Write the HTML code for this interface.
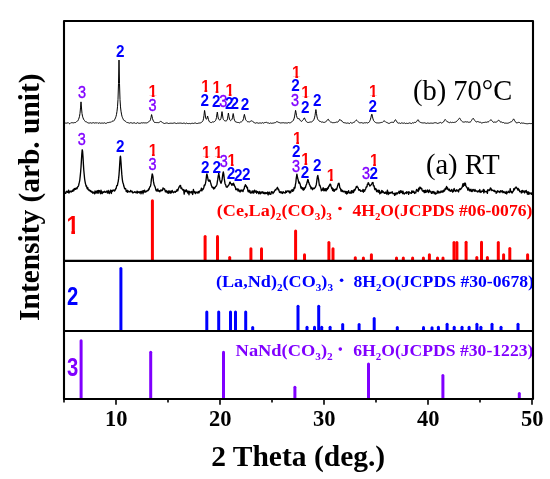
<!DOCTYPE html><html><head><meta charset="utf-8"><style>html,body{margin:0;padding:0;background:#fff;width:550px;height:479px;overflow:hidden}svg{display:block}</style></head><body>
<svg width="550" height="479" viewBox="0 0 550 479">
<rect width="550" height="479" fill="#fff"/>
<defs><clipPath id="c1" clipPathUnits="userSpaceOnUse"><rect x="-5" y="-30" width="30" height="27.95"/><rect x="3.6" y="-2.2" width="3.1" height="8"/></clipPath><clipPath id="c1b" clipPathUnits="userSpaceOnUse"><rect x="-5" y="-40" width="40" height="36.6"/><rect x="5.6" y="-3.6" width="4.2" height="8"/></clipPath></defs>
<polyline fill="none" stroke="#000" stroke-width="1.0" stroke-linejoin="round" points="65.00,123.40 65.50,123.07 66.00,122.98 66.50,123.14 67.00,123.06 67.50,122.89 68.00,122.75 68.50,122.80 69.00,123.36 69.50,123.72 70.00,123.50 70.50,123.00 71.00,122.86 71.50,122.71 72.00,122.62 72.50,122.74 73.00,122.84 73.50,122.85 74.00,122.77 74.50,122.59 75.00,122.53 75.50,122.53 76.00,122.18 76.50,121.63 77.00,121.28 77.50,121.08 78.00,120.49 78.50,119.39 79.00,118.07 79.50,116.29 80.00,113.34 80.50,107.90 81.00,101.87 81.50,108.01 82.00,113.47 82.50,116.13 83.00,117.79 83.50,119.09 84.00,119.94 84.50,120.47 85.00,121.23 85.50,121.75 86.00,121.81 86.50,121.92 87.00,122.21 87.50,122.62 88.00,122.93 88.50,123.00 89.00,123.01 89.50,123.03 90.00,122.86 90.50,122.79 91.00,123.03 91.50,123.15 92.00,122.96 92.50,122.89 93.00,122.72 93.50,122.70 94.00,123.00 94.50,123.09 95.00,122.86 95.50,122.83 96.00,123.04 96.50,122.93 97.00,122.72 97.50,122.80 98.00,123.31 98.50,123.20 99.00,122.79 99.50,122.82 100.00,123.06 100.50,123.22 101.00,123.21 101.50,123.09 102.00,122.89 102.50,123.07 103.00,123.21 103.50,123.16 104.00,122.74 104.50,122.81 105.00,123.18 105.50,123.37 106.00,123.27 106.50,123.21 107.00,122.95 107.50,122.60 108.00,122.40 108.50,122.57 109.00,122.58 109.50,122.31 110.00,122.09 110.50,122.18 111.00,122.20 111.50,121.96 112.00,121.43 112.50,121.10 113.00,121.17 113.50,121.12 114.00,120.62 114.50,119.83 115.00,118.94 115.50,117.86 116.00,116.43 116.50,114.32 117.00,111.29 117.50,106.79 118.00,99.35 118.50,83.35 119.00,60.06 119.50,83.47 120.00,99.57 120.50,106.91 121.00,111.19 121.50,114.10 122.00,116.32 122.50,117.71 123.00,118.77 123.50,119.82 124.00,120.53 124.50,120.65 125.00,120.85 125.50,121.29 126.00,121.76 126.50,122.31 127.00,122.56 127.50,122.55 128.00,122.53 128.50,122.81 129.00,123.02 129.50,123.15 130.00,122.94 130.50,122.71 131.00,122.57 131.50,122.87 132.00,123.18 132.50,123.21 133.00,122.94 133.50,122.93 134.00,122.98 134.50,122.85 135.00,122.85 135.50,123.35 136.00,123.60 136.50,123.28 137.00,122.83 137.50,122.66 138.00,122.79 138.50,123.18 139.00,123.36 139.50,123.27 140.00,123.21 140.50,123.21 141.00,122.98 141.50,122.78 142.00,122.85 142.50,122.96 143.00,122.87 143.50,122.77 144.00,122.77 144.50,122.92 145.00,123.02 145.50,122.89 146.00,122.83 146.50,122.94 147.00,123.02 147.50,122.62 148.00,122.17 148.50,121.89 149.00,121.68 149.50,121.22 150.00,120.68 150.50,119.63 151.00,117.51 151.50,114.73 151.60,114.56 152.00,116.16 152.50,118.66 153.00,120.09 153.50,121.07 154.00,121.85 154.50,122.46 155.00,122.60 155.50,122.49 156.00,122.38 156.50,122.59 157.00,122.66 157.50,122.59 158.00,122.55 158.50,122.67 159.00,122.51 159.50,122.18 160.00,121.72 160.50,121.40 161.00,121.41 161.50,121.75 162.00,122.15 162.50,122.67 163.00,123.05 163.50,123.15 164.00,123.34 164.50,123.50 165.00,123.39 165.50,123.20 166.00,122.97 166.50,122.96 167.00,122.99 167.50,123.08 168.00,123.19 168.50,123.50 169.00,123.51 169.50,123.33 170.00,123.18 170.50,123.23 171.00,123.24 171.50,123.24 172.00,123.31 172.50,123.30 173.00,123.19 173.50,123.14 174.00,122.96 174.50,122.88 175.00,122.92 175.50,123.24 176.00,123.60 176.50,123.52 177.00,123.14 177.50,123.15 178.00,123.23 178.50,123.21 179.00,123.29 179.50,123.13 180.00,122.92 180.50,123.08 181.00,123.32 181.50,123.22 182.00,123.20 182.50,123.43 183.00,123.45 183.50,123.14 184.00,123.08 184.50,123.19 185.00,123.44 185.50,123.66 186.00,123.48 186.50,123.07 187.00,123.05 187.50,123.51 188.00,123.77 188.50,123.59 189.00,123.39 189.50,123.43 190.00,123.64 190.50,123.69 191.00,123.56 191.50,123.39 192.00,123.48 192.50,123.27 193.00,123.31 193.50,123.44 194.00,123.42 194.50,123.10 195.00,122.93 195.50,122.99 196.00,123.30 196.50,123.48 197.00,123.51 197.50,123.47 198.00,123.31 198.50,123.15 199.00,123.14 199.50,123.02 200.00,122.85 200.50,122.86 201.00,122.75 201.50,122.29 202.00,121.82 202.50,121.50 203.00,120.65 203.50,118.78 204.00,115.32 204.50,110.71 204.60,110.40 205.00,113.03 205.50,117.06 206.00,118.88 206.50,119.21 207.00,118.33 207.50,116.21 207.60,115.99 208.00,117.63 208.50,119.76 209.00,121.06 209.50,121.85 210.00,122.24 210.50,122.43 211.00,122.61 211.50,122.55 212.00,122.25 212.50,121.88 213.00,121.97 213.50,122.04 214.00,121.70 214.50,121.47 215.00,121.26 215.50,120.54 216.00,119.32 216.50,117.43 217.00,113.61 217.30,112.06 217.50,112.88 218.00,116.96 218.50,118.97 219.00,119.61 219.50,119.92 220.00,120.08 220.50,119.67 221.00,118.24 221.50,114.98 222.00,111.61 222.50,115.00 223.00,118.22 223.50,119.65 224.00,120.27 224.50,120.64 225.00,120.92 225.50,120.95 226.00,120.92 226.50,120.74 227.00,120.27 227.50,118.86 228.00,115.45 228.40,113.04 229.00,116.72 229.50,119.10 230.00,120.15 230.50,120.62 231.00,120.33 231.50,119.87 232.00,119.31 232.50,117.71 233.00,114.30 233.20,113.55 233.50,114.89 234.00,118.38 234.50,120.15 235.00,121.15 235.50,121.89 236.00,122.10 236.50,122.15 237.00,122.38 237.50,122.44 238.00,122.42 238.50,122.51 239.00,122.85 239.50,122.84 240.00,122.40 240.50,122.06 241.00,122.00 241.50,121.80 242.00,121.42 242.50,121.01 243.00,120.12 243.50,118.56 244.00,115.91 244.40,114.36 245.00,117.02 245.50,119.27 246.00,120.28 246.50,120.69 247.00,121.20 247.50,121.68 248.00,121.80 248.50,121.77 249.00,121.88 249.50,121.93 250.00,121.59 250.50,121.29 251.00,121.02 251.50,120.82 252.00,120.81 252.50,121.18 253.00,121.74 253.50,122.18 254.00,122.49 254.50,122.74 255.00,123.03 255.50,123.16 256.00,123.13 256.50,122.75 257.00,122.59 257.50,122.90 258.00,123.21 258.50,123.22 259.00,123.12 259.50,122.99 260.00,122.82 260.50,122.99 261.00,123.23 261.50,123.18 262.00,122.78 262.50,122.65 263.00,122.91 263.50,123.16 264.00,122.90 264.50,122.63 265.00,122.63 265.50,122.48 266.00,122.20 266.50,122.34 267.00,122.65 267.50,122.87 268.00,122.86 268.50,122.97 269.00,123.16 269.50,123.44 270.00,123.21 270.50,122.96 271.00,123.07 271.50,123.29 272.00,123.14 272.50,123.16 273.00,123.25 273.50,123.06 274.00,122.80 274.50,122.76 275.00,122.88 275.50,122.65 276.00,122.10 276.50,121.68 276.70,121.75 277.00,121.77 277.50,121.80 278.00,122.01 278.50,122.34 279.00,122.49 279.50,122.63 280.00,122.94 280.50,122.97 281.00,122.97 281.50,122.87 282.00,122.88 282.50,122.79 283.00,122.68 283.50,122.72 284.00,123.00 284.50,122.96 285.00,122.79 285.50,122.90 286.00,123.03 286.50,123.01 287.00,123.05 287.50,123.01 288.00,122.77 288.50,122.54 289.00,122.68 289.50,122.88 290.00,122.95 290.50,122.69 291.00,122.28 291.50,121.99 292.00,121.71 292.50,121.31 293.00,120.81 293.50,119.99 294.00,118.70 294.50,116.91 295.00,114.03 295.50,110.48 295.60,110.31 296.00,112.27 296.50,115.50 297.00,117.32 297.50,118.45 298.00,118.92 298.50,118.68 299.00,118.39 299.50,119.22 300.00,120.18 300.50,120.75 301.00,121.01 301.50,121.30 302.00,121.19 302.50,120.52 303.00,119.93 303.50,119.27 304.00,118.20 304.30,117.81 304.50,117.99 305.00,119.12 305.50,120.28 306.00,121.11 306.50,121.73 307.00,122.18 307.50,122.37 308.00,122.37 308.50,122.46 309.00,122.51 309.50,122.20 310.00,121.97 310.50,121.97 311.00,122.10 311.50,121.96 312.00,121.66 312.50,121.24 313.00,120.93 313.50,120.35 314.00,119.30 314.50,117.83 315.00,115.62 315.50,111.86 315.90,109.59 316.50,113.61 317.00,116.84 317.50,118.69 318.00,119.68 318.50,120.28 319.00,120.91 319.50,121.24 320.00,121.35 320.50,121.52 321.00,121.90 321.50,122.13 322.00,122.12 322.50,121.98 323.00,122.04 323.50,122.36 324.00,122.54 324.50,122.36 325.00,122.14 325.50,121.86 326.00,121.47 326.50,121.08 327.00,120.65 327.50,119.95 328.00,119.19 328.20,119.12 328.50,119.59 329.00,120.48 329.50,121.06 330.00,121.51 330.50,121.98 331.00,122.07 331.50,122.23 332.00,122.45 332.50,122.69 333.00,122.71 333.50,122.67 334.00,122.50 334.50,122.61 335.00,122.62 335.50,122.43 336.00,122.25 336.50,122.05 337.00,122.01 337.50,122.14 338.00,121.96 338.50,121.43 339.00,120.67 339.50,119.70 340.00,119.36 340.50,120.11 341.00,120.73 341.50,120.71 342.00,120.88 342.50,121.71 343.00,122.41 343.50,122.55 344.00,122.64 344.50,122.75 345.00,122.76 345.50,122.92 346.00,123.17 346.50,123.20 347.00,123.06 347.50,123.00 348.00,123.00 348.50,123.16 349.00,123.53 349.50,123.59 350.00,122.91 350.50,122.42 351.00,122.66 351.50,123.05 352.00,123.22 352.50,123.00 353.00,122.54 353.50,122.41 354.00,122.31 354.50,122.03 355.00,121.55 355.50,120.97 356.00,120.24 356.40,120.04 357.00,120.62 357.50,121.23 358.00,121.65 358.50,122.05 359.00,122.44 359.50,122.76 360.00,122.93 360.50,122.79 361.00,122.60 361.50,122.64 362.00,122.88 362.50,122.97 363.00,123.04 363.50,123.14 364.00,123.13 364.50,122.78 365.00,122.66 365.50,122.85 366.00,122.78 366.50,122.63 367.00,122.87 367.50,123.01 368.00,122.65 368.50,122.50 369.00,122.37 369.50,121.64 370.00,120.49 370.50,119.21 371.00,117.31 371.50,114.75 371.80,114.09 372.00,114.48 372.50,116.84 373.00,118.93 373.50,120.39 374.00,121.24 374.50,121.63 375.00,121.92 375.50,122.46 376.00,122.76 376.50,122.86 377.00,122.96 377.50,122.92 378.00,122.92 378.50,122.98 379.00,122.99 379.50,122.89 380.00,122.90 380.50,122.67 381.00,122.43 381.50,122.41 382.00,122.54 382.50,122.30 383.00,121.73 383.50,121.24 384.00,120.89 384.50,120.97 385.00,121.40 385.50,121.92 386.00,122.19 386.50,122.39 387.00,122.64 387.50,122.77 388.00,123.02 388.50,123.34 389.00,123.47 389.50,123.29 390.00,123.01 390.50,122.63 391.00,122.48 391.50,122.31 392.00,122.19 392.50,122.29 393.00,122.61 393.50,122.54 394.00,121.87 394.50,120.99 395.00,120.14 395.50,119.80 396.00,120.27 396.50,121.15 397.00,122.06 397.50,122.75 398.00,123.11 398.50,123.17 399.00,123.03 399.50,122.99 400.00,123.38 400.50,123.46 401.00,123.18 401.50,122.90 402.00,122.86 402.50,123.08 403.00,123.35 403.50,123.24 404.00,122.94 404.50,122.94 405.00,123.25 405.50,123.54 406.00,123.51 406.50,123.24 407.00,123.26 407.50,123.46 408.00,123.45 408.50,123.31 409.00,123.12 409.50,122.89 410.00,122.94 410.50,123.22 411.00,123.41 411.50,123.54 412.00,123.18 412.50,122.76 413.00,122.79 413.50,123.01 414.00,122.81 414.50,122.38 415.00,122.26 415.50,122.42 416.00,122.30 416.50,121.61 417.00,121.03 417.50,120.24 418.00,119.69 418.50,120.26 419.00,121.43 419.50,121.96 420.00,122.06 420.50,122.41 421.00,122.62 421.50,122.72 422.00,122.80 422.50,122.90 423.00,122.94 423.50,122.95 424.00,122.85 424.50,122.82 425.00,123.02 425.50,123.14 426.00,123.34 426.50,123.40 427.00,123.19 427.50,123.00 428.00,123.00 428.50,123.17 429.00,123.30 429.50,123.31 430.00,123.25 430.50,123.13 431.00,123.12 431.50,123.14 432.00,123.09 432.50,123.24 433.00,123.34 433.50,123.12 434.00,122.82 434.50,122.76 435.00,122.66 435.50,122.71 436.00,122.79 436.50,122.95 437.00,123.22 437.50,123.42 438.00,123.35 438.50,123.16 439.00,123.01 439.50,122.78 440.00,122.49 440.50,122.40 441.00,122.77 441.50,123.08 442.00,122.81 442.50,122.59 443.00,122.44 443.50,121.97 444.00,121.18 444.50,120.34 445.00,119.47 445.30,119.56 445.50,119.87 446.00,120.52 446.50,120.99 447.00,121.51 447.50,121.75 448.00,121.90 448.50,122.27 449.00,122.63 449.50,122.70 450.00,122.52 450.50,122.15 451.00,122.20 451.50,122.71 452.00,122.70 452.50,122.34 453.00,122.32 453.50,122.51 454.00,122.49 454.50,122.34 455.00,122.15 455.50,122.09 456.00,121.99 456.50,121.56 457.00,120.83 457.50,120.32 458.00,119.98 458.50,119.47 459.00,118.71 459.50,118.17 459.60,118.07 460.00,118.33 460.50,119.43 461.00,120.35 461.50,120.93 462.00,121.41 462.50,121.78 463.00,122.01 463.50,122.08 464.00,122.09 464.50,122.02 465.00,121.91 465.50,121.72 466.00,121.87 466.50,121.97 467.00,121.98 467.50,121.85 468.00,121.95 468.50,122.26 469.00,122.38 469.50,122.20 470.00,121.99 470.50,121.87 471.00,121.45 471.50,120.56 472.00,119.62 472.50,118.86 473.00,118.32 473.50,118.59 474.00,119.39 474.50,120.17 475.00,120.74 475.50,121.37 476.00,121.91 476.50,121.97 477.00,121.59 477.50,121.56 478.00,121.68 478.50,121.80 479.00,122.06 479.50,122.24 480.00,122.17 480.50,122.28 481.00,122.64 481.50,122.97 482.00,122.94 482.50,122.77 483.00,122.57 483.50,122.49 484.00,122.36 484.50,122.42 485.00,122.34 485.50,122.16 486.00,122.06 486.50,122.29 487.00,122.21 487.50,121.90 488.00,121.78 488.50,121.81 489.00,121.47 489.50,120.93 490.00,120.32 490.50,119.96 490.70,120.04 491.00,120.03 491.50,120.16 492.00,120.64 492.50,121.48 493.00,122.09 493.50,122.29 494.00,122.27 494.50,122.05 495.00,121.99 495.50,122.18 496.00,122.29 496.50,121.95 497.00,121.57 497.50,121.16 498.00,120.80 498.50,120.36 498.70,120.23 499.00,120.23 499.50,120.96 500.00,121.71 500.50,122.01 501.00,121.97 501.50,122.01 502.00,122.40 502.50,122.60 503.00,122.44 503.50,122.48 504.00,122.99 504.50,123.15 505.00,123.08 505.50,123.12 506.00,123.26 506.50,123.19 507.00,123.21 507.50,123.23 508.00,123.26 508.50,123.00 509.00,122.82 509.50,122.57 510.00,122.25 510.50,122.02 511.00,122.00 511.50,121.79 512.00,121.23 512.50,120.65 513.00,119.84 513.50,119.07 513.60,118.87 514.00,119.37 514.50,120.38 515.00,121.15 515.50,121.96 516.00,122.65 516.50,122.80 517.00,122.65 517.50,122.72 518.00,122.75 518.50,122.39 519.00,122.19 519.50,122.48 520.00,123.06 520.50,123.42 521.00,123.34 521.50,122.93 522.00,122.98 522.50,123.15 523.00,123.14 523.50,123.10 524.00,123.27 524.50,123.38 525.00,123.41 525.50,123.57 526.00,123.87 526.50,123.70 527.00,123.59 527.50,123.75 528.00,123.91 528.50,123.60 529.00,123.47 529.50,123.44 530.00,123.54 530.50,123.60 531.00,123.71 531.50,123.56 532.00,123.32"/>
<polyline fill="none" stroke="#000" stroke-width="1.35" stroke-linejoin="round" points="65.00,192.15 65.40,193.36 65.80,193.24 66.20,191.42 66.60,191.66 67.00,191.29 67.40,192.27 67.80,191.60 68.20,192.38 68.60,190.08 69.00,193.12 69.40,191.46 69.80,192.00 70.20,191.39 70.60,191.11 71.00,191.79 71.40,192.02 71.80,190.90 72.20,190.80 72.60,191.35 73.00,190.03 73.40,189.26 73.80,190.78 74.20,189.67 74.60,188.55 75.00,189.35 75.40,189.42 75.80,188.69 76.20,187.92 76.60,188.73 77.00,188.84 77.40,187.52 77.80,186.58 78.20,186.50 78.60,185.50 79.00,183.55 79.40,182.18 79.80,180.00 80.20,176.43 80.60,172.23 81.00,167.30 81.40,160.71 81.80,154.26 82.20,149.92 82.30,149.87 82.60,151.41 83.00,156.90 83.40,164.11 83.80,170.21 84.20,174.47 84.60,178.74 85.00,181.30 85.40,183.36 85.80,184.86 86.20,186.40 86.60,186.06 87.00,188.23 87.40,188.91 87.80,187.73 88.20,189.61 88.60,189.60 89.00,190.62 89.40,189.96 89.80,190.57 90.20,191.22 90.60,190.48 91.00,191.81 91.40,191.42 91.80,192.27 92.20,191.57 92.60,193.10 93.00,192.72 93.40,192.12 93.80,192.78 94.20,193.35 94.60,193.89 95.00,190.98 95.40,193.03 95.80,192.51 96.20,191.90 96.60,191.09 97.00,193.17 97.40,190.79 97.80,192.44 98.20,193.18 98.60,190.39 99.00,191.67 99.40,190.67 99.80,192.12 100.20,193.19 100.60,193.68 101.00,190.11 101.40,191.60 101.80,192.85 102.20,193.62 102.60,192.51 103.00,191.61 103.40,192.46 103.80,192.09 104.20,191.77 104.60,191.33 105.00,192.35 105.40,192.38 105.80,191.95 106.20,191.94 106.60,191.08 107.00,191.82 107.40,193.15 107.80,191.77 108.20,190.40 108.60,192.91 109.00,192.08 109.40,193.48 109.80,191.45 110.20,191.01 110.60,190.08 111.00,192.53 111.40,193.50 111.80,190.54 112.20,190.61 112.60,191.27 113.00,190.04 113.40,190.35 113.80,190.23 114.20,190.67 114.60,191.05 115.00,189.78 115.40,189.98 115.80,188.48 116.20,188.35 116.60,185.99 117.00,185.39 117.40,185.47 117.80,183.13 118.20,181.57 118.60,178.67 119.00,174.83 119.40,169.22 119.80,162.67 120.20,157.10 120.40,156.16 120.60,156.96 121.00,162.29 121.40,168.66 121.80,174.15 122.20,178.30 122.60,181.32 123.00,183.10 123.40,183.77 123.80,186.01 124.20,187.10 124.60,188.63 125.00,188.91 125.40,188.55 125.80,188.99 126.20,191.41 126.60,190.54 127.00,191.70 127.40,192.31 127.80,190.30 128.20,191.37 128.60,191.68 129.00,191.94 129.40,191.92 129.80,191.65 130.20,191.78 130.60,190.39 131.00,191.54 131.40,191.14 131.80,191.88 132.20,191.31 132.60,192.78 133.00,192.90 133.40,192.40 133.80,192.49 134.20,192.31 134.60,191.74 135.00,192.08 135.40,191.95 135.80,192.73 136.20,192.36 136.60,192.73 137.00,191.10 137.40,193.01 137.80,191.53 138.20,191.84 138.60,192.25 139.00,192.11 139.40,192.95 139.80,191.86 140.20,191.53 140.60,191.86 141.00,193.74 141.40,192.45 141.80,191.27 142.20,192.32 142.60,190.89 143.00,193.72 143.40,190.62 143.80,192.28 144.20,192.19 144.60,190.21 145.00,191.57 145.40,192.09 145.80,191.61 146.20,191.25 146.60,191.57 147.00,190.75 147.40,190.76 147.80,190.24 148.20,190.55 148.60,188.86 149.00,189.67 149.40,188.10 149.80,186.95 150.20,186.71 150.60,185.77 151.00,183.13 151.40,179.40 151.80,176.55 152.20,173.89 152.30,173.89 152.60,174.89 153.00,176.98 153.40,181.18 153.80,183.04 154.20,185.05 154.60,185.81 155.00,186.71 155.40,187.77 155.80,189.62 156.20,190.77 156.60,189.88 157.00,191.14 157.40,190.20 157.80,188.92 158.20,190.87 158.60,191.16 159.00,190.61 159.40,191.41 159.80,191.78 160.20,190.67 160.60,190.05 161.00,190.89 161.40,190.53 161.80,190.02 162.20,190.50 162.60,190.02 163.00,187.91 163.40,188.24 163.50,188.52 163.80,188.48 164.20,189.30 164.60,188.94 165.00,190.35 165.40,191.78 165.80,191.23 166.20,190.48 166.60,191.73 167.00,192.56 167.40,191.77 167.80,191.18 168.20,193.39 168.60,190.92 169.00,192.64 169.40,192.09 169.80,191.00 170.20,193.20 170.60,192.40 171.00,191.13 171.40,192.84 171.80,191.69 172.20,190.36 172.60,191.49 173.00,192.33 173.40,192.67 173.80,191.94 174.20,191.83 174.60,192.02 175.00,191.33 175.40,192.33 175.80,191.43 176.20,191.26 176.60,191.26 177.00,189.70 177.40,189.65 177.80,190.82 178.20,189.21 178.60,187.93 179.00,187.47 179.40,186.14 179.80,186.14 180.00,185.47 180.20,186.16 180.60,185.57 181.00,188.38 181.40,188.00 181.80,188.04 182.20,189.42 182.60,189.58 183.00,190.24 183.40,189.48 183.80,191.08 184.20,194.16 184.60,190.07 185.00,191.54 185.40,191.03 185.80,191.55 186.20,189.75 186.60,190.38 187.00,191.76 187.40,191.39 187.80,193.00 188.20,191.05 188.60,192.00 189.00,194.74 189.40,191.46 189.80,191.39 190.20,192.12 190.60,192.11 191.00,192.93 191.40,192.24 191.80,191.41 192.20,192.29 192.60,194.45 193.00,193.25 193.40,189.44 193.80,191.89 194.20,191.21 194.60,192.62 195.00,191.66 195.40,193.58 195.80,192.77 196.20,192.75 196.60,192.18 197.00,191.98 197.40,192.41 197.80,193.10 198.20,192.32 198.60,191.52 199.00,192.84 199.40,191.76 199.80,191.30 200.20,190.51 200.60,190.48 201.00,190.21 201.40,188.13 201.80,190.83 202.20,190.01 202.60,188.94 203.00,189.46 203.40,188.40 203.80,187.86 204.20,185.25 204.60,185.78 205.00,184.88 205.40,183.74 205.80,181.57 206.20,178.63 206.60,175.12 206.90,173.95 207.40,176.22 207.80,178.06 208.20,180.31 208.60,180.78 209.00,181.18 209.40,180.06 209.80,180.60 210.00,180.28 210.20,181.08 210.60,182.63 211.00,183.99 211.40,185.55 211.80,186.32 212.20,187.50 212.60,187.83 213.00,187.31 213.40,187.47 213.80,189.02 214.20,187.71 214.60,188.41 215.00,187.75 215.40,186.76 215.80,186.30 216.20,186.17 216.60,185.30 217.00,184.17 217.40,181.40 217.80,179.16 218.20,176.20 218.60,174.42 218.70,172.93 219.00,174.63 219.40,176.96 219.80,179.88 220.20,181.19 220.60,182.41 221.00,183.30 221.40,182.26 221.80,181.08 222.20,179.03 222.60,175.69 223.00,173.10 223.30,171.88 223.80,174.31 224.20,178.13 224.60,180.84 225.00,183.38 225.40,184.39 225.80,185.09 226.20,186.80 226.60,186.97 227.00,187.29 227.40,186.84 227.80,186.24 228.20,185.74 228.60,185.06 229.00,184.84 229.40,183.52 229.80,182.08 230.00,182.73 230.20,182.13 230.60,183.57 231.00,183.50 231.40,184.08 231.80,185.21 232.20,185.06 232.60,183.78 233.00,184.60 233.40,185.06 233.60,183.16 233.80,185.12 234.20,184.59 234.60,185.87 235.00,187.04 235.40,187.02 235.80,189.63 236.20,189.59 236.60,189.00 237.00,189.67 237.40,188.86 237.80,189.98 238.20,191.16 238.60,189.12 239.00,190.22 239.40,190.65 239.80,191.69 240.20,191.97 240.60,190.22 241.00,189.99 241.40,191.02 241.80,190.23 242.20,190.10 242.60,191.07 243.00,191.48 243.40,189.95 243.80,189.13 244.20,188.97 244.60,186.29 245.00,186.51 245.40,184.66 245.80,186.01 246.20,185.80 246.60,187.02 247.00,188.09 247.40,187.31 247.80,190.48 248.20,191.74 248.60,190.36 249.00,191.64 249.40,192.04 249.80,190.31 250.20,192.70 250.60,193.14 251.00,192.21 251.40,192.03 251.80,192.88 252.20,190.82 252.60,192.07 253.00,192.91 253.40,191.05 253.80,193.06 254.20,191.78 254.60,190.08 255.00,191.92 255.40,191.09 255.80,192.31 256.20,191.00 256.60,193.22 257.00,191.41 257.40,192.49 257.80,191.61 258.20,191.92 258.60,193.71 259.00,192.93 259.40,192.26 259.80,191.48 260.20,193.92 260.60,193.57 261.00,192.47 261.40,192.98 261.80,191.85 262.20,191.78 262.60,192.14 263.00,193.32 263.40,193.15 263.80,192.11 264.20,193.70 264.60,193.52 265.00,192.81 265.40,193.67 265.80,192.57 266.20,192.73 266.60,193.35 267.00,193.01 267.40,193.90 267.80,192.00 268.20,194.79 268.60,192.57 269.00,193.24 269.40,192.18 269.80,194.06 270.20,194.42 270.60,194.18 271.00,194.05 271.40,191.68 271.80,192.28 272.20,192.35 272.60,191.85 273.00,193.51 273.40,192.47 273.80,192.00 274.20,192.08 274.60,190.81 275.00,190.25 275.40,189.78 275.80,190.04 276.20,189.09 276.60,188.55 277.00,188.47 277.40,187.27 277.80,188.51 278.20,189.70 278.60,189.29 279.00,190.46 279.40,192.07 279.80,192.50 280.20,192.69 280.60,191.73 281.00,191.84 281.40,192.96 281.80,191.84 282.20,192.60 282.60,193.43 283.00,192.01 283.40,191.79 283.80,192.32 284.20,192.93 284.60,192.79 285.00,192.42 285.40,192.99 285.80,190.88 286.20,191.59 286.60,192.38 287.00,191.29 287.40,190.98 287.80,191.04 288.20,191.21 288.60,191.75 289.00,190.82 289.40,191.99 289.80,193.14 290.20,191.47 290.60,192.66 291.00,191.65 291.40,190.13 291.80,190.66 292.20,189.86 292.60,191.26 293.00,189.33 293.40,190.82 293.80,189.76 294.20,187.44 294.60,188.40 295.00,187.68 295.40,184.56 295.80,182.95 296.20,178.55 296.60,176.06 296.90,174.23 297.40,176.83 297.80,178.61 298.20,179.96 298.60,182.14 299.00,183.26 299.40,182.06 299.50,182.78 299.80,183.12 300.20,184.44 300.60,186.35 301.00,187.97 301.40,186.97 301.80,188.72 302.20,188.93 302.60,187.80 303.00,190.00 303.40,190.17 303.80,188.05 304.20,189.53 304.60,188.09 305.00,187.49 305.40,187.89 305.80,186.03 306.20,184.85 306.60,184.04 307.00,182.48 307.40,181.06 307.80,179.54 308.20,179.91 308.60,182.37 309.00,182.71 309.40,184.55 309.80,184.91 310.20,186.34 310.60,186.27 311.00,188.73 311.40,187.36 311.80,188.27 312.20,188.60 312.60,189.72 313.00,187.81 313.40,188.75 313.80,188.33 314.20,188.64 314.60,188.30 315.00,187.42 315.40,187.25 315.80,185.94 316.20,184.97 316.60,182.51 317.00,179.39 317.40,176.70 317.80,175.44 318.20,177.53 318.60,179.45 319.00,182.70 319.40,185.53 319.80,185.04 320.20,186.26 320.60,187.47 321.00,188.59 321.40,190.78 321.80,189.60 322.20,190.32 322.60,189.40 323.00,187.83 323.40,187.94 323.80,190.74 324.20,190.15 324.60,188.90 325.00,190.72 325.40,188.62 325.80,190.71 326.20,190.80 326.60,188.82 327.00,188.39 327.40,189.52 327.80,187.67 328.20,188.35 328.60,186.28 329.00,186.61 329.40,185.39 329.80,184.46 330.00,184.12 330.20,184.94 330.60,184.35 331.00,186.15 331.40,187.09 331.80,188.56 332.20,187.91 332.60,190.48 333.00,189.42 333.40,189.04 333.80,191.13 334.20,191.40 334.60,189.96 335.00,189.35 335.40,189.96 335.80,189.09 336.20,188.88 336.60,189.64 337.00,188.01 337.40,186.71 337.80,185.54 338.20,183.80 338.60,183.31 338.70,183.28 339.00,183.16 339.40,184.90 339.80,187.83 340.20,188.03 340.60,188.63 341.00,191.12 341.40,190.16 341.80,189.89 342.20,191.61 342.60,190.63 343.00,191.15 343.40,191.84 343.80,191.60 344.20,191.18 344.60,191.49 345.00,191.42 345.40,192.99 345.80,191.49 346.20,191.62 346.60,193.99 347.00,191.62 347.40,193.54 347.80,193.14 348.20,191.84 348.60,190.75 349.00,192.55 349.40,192.83 349.80,193.09 350.20,192.19 350.60,193.10 351.00,193.01 351.40,190.76 351.80,192.96 352.20,191.68 352.60,190.78 353.00,190.67 353.40,192.49 353.80,191.74 354.20,189.40 354.60,190.59 355.00,189.83 355.40,189.03 355.80,188.06 356.20,186.80 356.60,187.52 357.00,186.19 357.40,186.82 357.80,187.28 358.20,187.98 358.60,189.82 359.00,190.21 359.40,189.75 359.80,189.75 360.20,190.27 360.60,191.37 361.00,190.80 361.40,191.13 361.80,190.80 362.20,190.76 362.60,191.27 363.00,189.52 363.40,192.24 363.80,190.10 364.20,190.10 364.60,191.23 365.00,189.96 365.40,189.42 365.80,188.41 366.20,186.87 366.60,187.16 367.00,186.57 367.40,184.22 367.80,184.39 368.20,182.65 368.60,183.00 369.00,184.34 369.40,184.91 369.80,186.00 370.20,185.61 370.60,185.51 371.00,184.78 371.40,184.56 371.80,183.76 372.20,182.67 372.60,183.17 372.70,182.80 373.00,182.43 373.40,185.88 373.80,185.42 374.20,186.35 374.60,189.01 375.00,189.69 375.40,188.47 375.80,188.62 376.20,189.38 376.60,191.50 377.00,190.53 377.40,190.31 377.80,191.32 378.20,192.35 378.60,190.20 379.00,191.35 379.40,190.39 379.80,193.80 380.20,193.48 380.60,192.71 381.00,191.83 381.40,192.80 381.80,190.35 382.20,192.66 382.60,191.24 383.00,191.40 383.40,192.00 383.80,192.40 384.20,193.20 384.60,193.37 385.00,193.01 385.40,192.02 385.80,193.34 386.20,192.55 386.60,193.95 387.00,191.95 387.40,190.11 387.80,192.16 388.20,194.60 388.60,192.98 389.00,192.30 389.40,193.49 389.80,193.07 390.20,193.21 390.60,192.35 391.00,192.85 391.40,192.95 391.80,192.21 392.20,191.82 392.60,192.96 393.00,193.74 393.40,193.58 393.80,193.47 394.20,193.48 394.60,195.35 395.00,193.19 395.40,193.85 395.80,194.73 396.20,192.98 396.60,192.84 397.00,193.54 397.40,193.89 397.80,192.59 398.20,192.73 398.60,192.46 399.00,191.29 399.40,193.46 399.80,192.35 400.20,190.95 400.60,192.50 401.00,190.76 401.40,191.49 401.80,192.43 402.20,191.33 402.60,193.54 403.00,191.17 403.40,193.02 403.80,193.42 404.20,194.16 404.60,193.47 405.00,192.80 405.40,192.73 405.80,192.44 406.20,193.53 406.60,191.80 407.00,192.98 407.40,192.19 407.80,192.61 408.20,192.06 408.60,194.33 409.00,191.66 409.40,192.60 409.80,192.73 410.20,192.99 410.60,192.85 411.00,192.78 411.40,193.39 411.80,190.96 412.20,192.28 412.60,191.16 413.00,192.47 413.40,191.21 413.80,191.38 414.20,192.19 414.60,193.44 415.00,192.56 415.40,192.18 415.80,192.84 416.20,190.62 416.60,189.49 417.00,190.63 417.40,190.24 417.80,191.24 418.20,191.54 418.60,188.24 419.00,190.16 419.40,188.65 419.80,187.50 420.00,187.07 420.20,188.52 420.60,187.52 421.00,187.94 421.40,189.02 421.80,188.60 422.20,190.59 422.60,190.59 423.00,191.30 423.40,191.37 423.80,190.36 424.20,192.52 424.60,190.63 425.00,192.47 425.40,190.18 425.80,192.30 426.20,191.03 426.60,191.95 427.00,191.34 427.40,189.91 427.80,190.88 428.20,192.00 428.60,192.52 429.00,190.54 429.40,190.00 429.80,191.19 430.20,191.87 430.60,191.59 431.00,191.48 431.40,193.24 431.80,193.33 432.20,193.22 432.60,191.54 433.00,192.56 433.40,192.47 433.80,191.37 434.20,193.64 434.60,192.87 435.00,192.39 435.40,194.14 435.80,193.37 436.20,193.38 436.60,193.61 437.00,193.01 437.40,190.99 437.80,191.70 438.20,193.01 438.60,191.31 439.00,191.81 439.40,192.10 439.80,192.89 440.20,192.63 440.60,192.21 441.00,190.97 441.40,192.15 441.80,191.76 442.20,191.09 442.60,192.14 443.00,191.33 443.40,190.13 443.80,191.69 444.20,190.21 444.60,190.76 445.00,188.80 445.40,189.46 445.80,188.28 446.20,187.62 446.60,186.35 447.00,189.08 447.40,187.64 447.80,188.49 448.20,189.81 448.60,189.56 449.00,190.48 449.40,189.26 449.80,190.79 450.20,190.42 450.60,191.28 451.00,191.16 451.40,189.98 451.80,189.57 452.20,190.35 452.60,192.00 453.00,191.51 453.40,191.46 453.80,189.37 454.20,188.56 454.60,190.45 455.00,190.92 455.40,190.47 455.80,191.44 456.20,190.78 456.60,189.82 457.00,190.10 457.40,190.96 457.80,190.65 458.20,190.27 458.60,191.94 459.00,189.73 459.40,189.84 459.80,188.64 460.20,189.05 460.60,189.43 461.00,188.91 461.40,188.09 461.80,187.79 462.20,187.19 462.60,185.12 463.00,183.61 463.40,186.27 463.80,184.88 464.20,184.11 464.40,183.17 464.60,183.43 465.00,185.25 465.40,183.26 465.80,185.40 466.20,186.77 466.60,186.97 467.00,187.94 467.40,187.85 467.80,190.08 468.20,188.10 468.60,187.97 469.00,189.54 469.40,190.84 469.80,189.78 470.20,190.85 470.60,189.67 471.00,189.16 471.40,191.41 471.80,191.47 472.20,191.62 472.60,189.89 473.00,189.38 473.40,189.52 473.80,190.29 474.20,191.07 474.60,191.22 475.00,189.45 475.40,190.95 475.80,190.87 476.20,191.06 476.60,191.01 477.00,190.85 477.40,191.95 477.80,191.61 478.20,191.68 478.60,190.75 479.00,191.77 479.40,191.30 479.80,189.55 480.20,192.06 480.60,191.30 481.00,192.44 481.40,191.10 481.80,191.17 482.20,191.42 482.60,191.10 483.00,190.73 483.40,189.39 483.80,192.91 484.20,189.88 484.60,191.13 485.00,191.90 485.40,191.59 485.80,191.58 486.20,191.62 486.60,191.97 487.00,190.98 487.40,193.32 487.80,189.76 488.20,190.57 488.60,189.99 489.00,189.80 489.40,190.07 489.80,190.49 490.20,188.32 490.60,187.90 491.00,188.97 491.40,188.96 491.80,190.48 492.20,190.25 492.60,190.15 493.00,190.18 493.40,191.04 493.80,190.95 494.20,190.22 494.60,191.61 495.00,191.30 495.40,191.27 495.80,191.24 496.20,193.28 496.60,192.59 497.00,192.53 497.40,191.22 497.80,190.75 498.20,191.38 498.60,191.90 499.00,191.50 499.40,191.50 499.80,192.63 500.20,192.00 500.60,190.68 501.00,191.20 501.40,191.26 501.80,192.00 502.20,190.67 502.60,191.49 503.00,192.72 503.40,192.28 503.80,191.45 504.20,191.89 504.60,192.67 505.00,192.80 505.40,193.21 505.80,192.48 506.20,191.35 506.60,193.90 507.00,192.82 507.40,192.64 507.80,192.53 508.20,191.20 508.60,191.77 509.00,192.01 509.40,192.63 509.80,191.73 510.20,188.70 510.60,191.13 511.00,191.70 511.40,192.46 511.80,191.54 512.20,192.96 512.60,191.83 513.00,191.64 513.40,190.93 513.80,188.74 514.20,189.99 514.60,189.21 515.00,187.95 515.40,188.03 515.80,187.60 516.00,187.01 516.20,187.34 516.60,187.62 517.00,188.56 517.40,188.87 517.80,190.03 518.20,188.52 518.60,190.14 519.00,189.35 519.40,190.56 519.80,191.69 520.20,191.48 520.60,191.33 521.00,191.58 521.40,192.94 521.80,190.61 522.20,192.49 522.60,190.36 523.00,191.22 523.40,191.75 523.80,191.12 524.20,192.38 524.60,192.92 525.00,191.01 525.40,191.98 525.80,191.72 526.20,190.32 526.60,192.29 527.00,191.84 527.40,194.02 527.80,191.82 528.20,194.18 528.60,191.86 529.00,194.31 529.40,193.01 529.80,192.81 530.20,193.08 530.60,193.17 531.00,193.88 531.40,194.30 531.80,192.26"/>
<g stroke="#ff0000" stroke-width="3.0" stroke-linecap="round"><line x1="152.4" y1="260" x2="152.4" y2="200.7"/><line x1="205.1" y1="260" x2="205.1" y2="236.6"/><line x1="217.5" y1="260" x2="217.5" y2="236.6"/><line x1="229.7" y1="260" x2="229.7" y2="257.4"/><line x1="250.9" y1="260" x2="250.9" y2="248.7"/><line x1="261.5" y1="260" x2="261.5" y2="248.7"/><line x1="295.6" y1="260" x2="295.6" y2="231.1"/><line x1="304.5" y1="260" x2="304.5" y2="254.8"/><line x1="328.9" y1="260" x2="328.9" y2="242.6"/><line x1="333.0" y1="260" x2="333.0" y2="248.8"/><line x1="355.3" y1="260" x2="355.3" y2="257.8"/><line x1="363.4" y1="260" x2="363.4" y2="258.0"/><line x1="371.4" y1="260" x2="371.4" y2="254.7"/><line x1="396.5" y1="260" x2="396.5" y2="258.0"/><line x1="403.3" y1="260" x2="403.3" y2="258.0"/><line x1="412.6" y1="260" x2="412.6" y2="258.0"/><line x1="423.4" y1="260" x2="423.4" y2="258.0"/><line x1="429.4" y1="260" x2="429.4" y2="254.7"/><line x1="437.5" y1="260" x2="437.5" y2="258.0"/><line x1="443.0" y1="260" x2="443.0" y2="258.0"/><line x1="454.0" y1="260" x2="454.0" y2="242.5"/><line x1="456.9" y1="260" x2="456.9" y2="242.5"/><line x1="466.1" y1="260" x2="466.1" y2="242.3"/><line x1="476.8" y1="260" x2="476.8" y2="257.6"/><line x1="481.5" y1="260" x2="481.5" y2="242.3"/><line x1="487.4" y1="260" x2="487.4" y2="257.6"/><line x1="498.3" y1="260" x2="498.3" y2="242.6"/><line x1="503.6" y1="260" x2="503.6" y2="254.7"/><line x1="509.8" y1="260" x2="509.8" y2="248.5"/><line x1="527.6" y1="260" x2="527.6" y2="254.7"/></g>
<g stroke="#0000ff" stroke-width="3.0" stroke-linecap="round"><line x1="120.9" y1="330.2" x2="120.9" y2="268.4"/><line x1="206.8" y1="330.2" x2="206.8" y2="312.1"/><line x1="218.7" y1="330.2" x2="218.7" y2="312.1"/><line x1="230.5" y1="330.2" x2="230.5" y2="312.1"/><line x1="235.5" y1="330.2" x2="235.5" y2="312.1"/><line x1="245.7" y1="330.2" x2="245.7" y2="312.1"/><line x1="252.7" y1="330.2" x2="252.7" y2="327.4"/><line x1="298.0" y1="330.2" x2="298.0" y2="306.3"/><line x1="307.0" y1="330.2" x2="307.0" y2="327.3"/><line x1="314.5" y1="330.2" x2="314.5" y2="327.3"/><line x1="318.7" y1="330.2" x2="318.7" y2="306.3"/><line x1="321.7" y1="330.2" x2="321.7" y2="327.3"/><line x1="330.1" y1="330.2" x2="330.1" y2="327.3"/><line x1="342.7" y1="330.2" x2="342.7" y2="324.5"/><line x1="359.1" y1="330.2" x2="359.1" y2="324.5"/><line x1="374.2" y1="330.2" x2="374.2" y2="318.5"/><line x1="397.3" y1="330.2" x2="397.3" y2="327.5"/><line x1="423.5" y1="330.2" x2="423.5" y2="327.5"/><line x1="432.0" y1="330.2" x2="432.0" y2="327.7"/><line x1="438.4" y1="330.2" x2="438.4" y2="327.2"/><line x1="447.1" y1="330.2" x2="447.1" y2="324.2"/><line x1="454.2" y1="330.2" x2="454.2" y2="327.2"/><line x1="462.0" y1="330.2" x2="462.0" y2="327.2"/><line x1="469.1" y1="330.2" x2="469.1" y2="327.2"/><line x1="476.9" y1="330.2" x2="476.9" y2="324.2"/><line x1="480.9" y1="330.2" x2="480.9" y2="327.2"/><line x1="492.0" y1="330.2" x2="492.0" y2="324.2"/><line x1="501.0" y1="330.2" x2="501.0" y2="327.2"/><line x1="518.0" y1="330.2" x2="518.0" y2="324.2"/></g>
<g stroke="#8000ff" stroke-width="3.0" stroke-linecap="round"><line x1="81.1" y1="398" x2="81.1" y2="340.7"/><line x1="150.7" y1="398" x2="150.7" y2="352.3"/><line x1="223.5" y1="398" x2="223.5" y2="352.3"/><line x1="294.9" y1="398" x2="294.9" y2="387.3"/><line x1="368.5" y1="398" x2="368.5" y2="364.1"/><line x1="442.9" y1="398" x2="442.9" y2="375.4"/><line x1="519.3" y1="398" x2="519.3" y2="393.4"/></g>
<text x="116.2" y="425.6" text-anchor="middle" style="font-family:&quot;Liberation Serif&quot;,serif;font-weight:bold;font-size:22.5px">10</text>
<text x="220.2" y="425.6" text-anchor="middle" style="font-family:&quot;Liberation Serif&quot;,serif;font-weight:bold;font-size:22.5px">20</text>
<text x="324.2" y="425.6" text-anchor="middle" style="font-family:&quot;Liberation Serif&quot;,serif;font-weight:bold;font-size:22.5px">30</text>
<text x="428.2" y="425.6" text-anchor="middle" style="font-family:&quot;Liberation Serif&quot;,serif;font-weight:bold;font-size:22.5px">40</text>
<text x="532.2" y="425.6" text-anchor="middle" style="font-family:&quot;Liberation Serif&quot;,serif;font-weight:bold;font-size:22.5px">50</text>
<text x="298.2" y="465.6" text-anchor="middle" style="font-family:&quot;Liberation Serif&quot;,serif;font-weight:bold;font-size:29.5px">2 Theta (deg.)</text>
<text transform="translate(39.1,197.2) rotate(-90)" text-anchor="middle" style="font-family:&quot;Liberation Serif&quot;,serif;font-weight:bold;font-size:29.4px">Intensity (arb. unit)</text>
<text x="413" y="100" style="font-family:&quot;Liberation Serif&quot;,serif;font-size:28.5px">(b) 70°C</text>
<text x="425.9" y="173.6" style="font-family:&quot;Liberation Serif&quot;,serif;font-size:28.6px">(a) RT</text>
<text transform="translate(66.4,234.2) scale(0.88,1)" clip-path="url(#c1b)" style="font-family:&quot;Liberation Sans&quot;,sans-serif;font-weight:bold;font-size:25.5px;fill:#ff0000">1</text>
<text transform="translate(66.9,305.4) scale(0.81,1)" style="font-family:&quot;Liberation Sans&quot;,sans-serif;font-weight:bold;font-size:25px;fill:#0000ff">2</text>
<text transform="translate(66.9,375.9) scale(0.81,1)" style="font-family:&quot;Liberation Sans&quot;,sans-serif;font-weight:bold;font-size:25px;fill:#8000ff">3</text>
<text transform="translate(216.8,215.6) scale(1.069,1)" style="font-family:&quot;Liberation Serif&quot;,serif;font-weight:bold;font-size:17px;fill:#ff0000"><tspan dy="0">(Ce,La)</tspan><tspan dy="4" style="font-size:10.5px">2</tspan><tspan dy="-4">(CO</tspan><tspan dy="4" style="font-size:10.5px">3</tspan><tspan dy="-4">)</tspan><tspan dy="4" style="font-size:10.5px">3</tspan></text><circle cx="340.0" cy="208.5" r="1.8" fill="#ff0000"/><text transform="translate(352.4,215.6) scale(1.036,1)" style="font-family:&quot;Liberation Serif&quot;,serif;font-weight:bold;font-size:17px;fill:#ff0000"><tspan dy="0">4H</tspan><tspan dy="4" style="font-size:10.5px">2</tspan><tspan dy="-4">O(JCPDS #06-0076)</tspan></text>
<text transform="translate(216.0,287.3) scale(1.067,1)" style="font-family:&quot;Liberation Serif&quot;,serif;font-weight:bold;font-size:17px;fill:#0000ff"><tspan dy="0">(La,Nd)</tspan><tspan dy="4" style="font-size:10.5px">2</tspan><tspan dy="-4">(CO</tspan><tspan dy="4" style="font-size:10.5px">3</tspan><tspan dy="-4">)</tspan><tspan dy="4" style="font-size:10.5px">3</tspan></text><circle cx="341.6" cy="280.2" r="1.8" fill="#0000ff"/><text transform="translate(353.4,287.3) scale(1.039,1)" style="font-family:&quot;Liberation Serif&quot;,serif;font-weight:bold;font-size:17px;fill:#0000ff"><tspan dy="0">8H</tspan><tspan dy="4" style="font-size:10.5px">2</tspan><tspan dy="-4">O(JCPDS #30-0678)</tspan></text>
<text transform="translate(235.6,356.2) scale(1.082,1)" style="font-family:&quot;Liberation Serif&quot;,serif;font-weight:bold;font-size:17px;fill:#8000ff"><tspan dy="0">NaNd(CO</tspan><tspan dy="4" style="font-size:10.5px">3</tspan><tspan dy="-4">)</tspan><tspan dy="4" style="font-size:10.5px">2</tspan></text><circle cx="340.3" cy="349.1" r="1.8" fill="#8000ff"/><text transform="translate(353.3,356.2) scale(1.037,1)" style="font-family:&quot;Liberation Serif&quot;,serif;font-weight:bold;font-size:17px;fill:#8000ff"><tspan dy="0">6H</tspan><tspan dy="4" style="font-size:10.5px">2</tspan><tspan dy="-4">O(JCPDS #30-1223)</tspan></text>
<g style="font-family:&quot;Liberation Sans&quot;,sans-serif;font-size:17px"><text transform="translate(78.0,98.3) scale(0.85,1)" style="fill:#8000ff;stroke:#8000ff;stroke-width:0.4px">3</text><text transform="translate(116.1,56.9) scale(0.9,1)" style="fill:#0000ff;font-weight:bold">2</text><text transform="translate(148.5,97.4) scale(0.9,1)" clip-path="url(#c1)" style="fill:#ff0000;font-weight:bold">1</text><text transform="translate(148.4,111.1) scale(0.85,1)" style="fill:#8000ff;stroke:#8000ff;stroke-width:0.4px">3</text><text transform="translate(201.2,91.9) scale(0.9,1)" clip-path="url(#c1)" style="fill:#ff0000;font-weight:bold">1</text><text transform="translate(200.4,105.5) scale(0.9,1)" style="fill:#0000ff;font-weight:bold">2</text><text transform="translate(212.4,93.0) scale(0.9,1)" clip-path="url(#c1)" style="fill:#ff0000;font-weight:bold">1</text><text transform="translate(211.9,107.2) scale(0.9,1)" style="fill:#0000ff;font-weight:bold">2</text><text transform="translate(219.2,107.2) scale(0.85,1)" style="fill:#8000ff;stroke:#8000ff;stroke-width:0.4px">3</text><text transform="translate(225.5,95.7) scale(0.9,1)" clip-path="url(#c1)" style="fill:#ff0000;font-weight:bold">1</text><text transform="translate(224.9,109.4) scale(0.9,1)" style="fill:#0000ff;font-weight:bold">2</text><text transform="translate(230.4,109.4) scale(0.9,1)" style="fill:#0000ff;font-weight:bold">2</text><text transform="translate(240.7,110.4) scale(0.9,1)" style="fill:#0000ff;font-weight:bold">2</text><text transform="translate(292.1,78.2) scale(0.9,1)" clip-path="url(#c1)" style="fill:#ff0000;font-weight:bold">1</text><text transform="translate(291.2,90.9) scale(0.9,1)" style="fill:#0000ff;font-weight:bold">2</text><text transform="translate(291.1,105.5) scale(0.85,1)" style="fill:#8000ff;stroke:#8000ff;stroke-width:0.4px">3</text><text transform="translate(301.2,98.2) scale(0.9,1)" clip-path="url(#c1)" style="fill:#ff0000;font-weight:bold">1</text><text transform="translate(300.9,112.7) scale(0.9,1)" style="fill:#0000ff;font-weight:bold">2</text><text transform="translate(313.0,106.4) scale(0.9,1)" style="fill:#0000ff;font-weight:bold">2</text><text transform="translate(368.9,97.3) scale(0.9,1)" clip-path="url(#c1)" style="fill:#ff0000;font-weight:bold">1</text><text transform="translate(368.4,111.8) scale(0.9,1)" style="fill:#0000ff;font-weight:bold">2</text><text transform="translate(77.8,144.5) scale(0.85,1)" style="fill:#8000ff;stroke:#8000ff;stroke-width:0.4px">3</text><text transform="translate(116.1,152.1) scale(0.9,1)" style="fill:#0000ff;font-weight:bold">2</text><text transform="translate(148.7,155.9) scale(0.9,1)" clip-path="url(#c1)" style="fill:#ff0000;font-weight:bold">1</text><text transform="translate(148.6,169.8) scale(0.85,1)" style="fill:#8000ff;stroke:#8000ff;stroke-width:0.4px">3</text><text transform="translate(202.1,158.2) scale(0.9,1)" clip-path="url(#c1)" style="fill:#ff0000;font-weight:bold">1</text><text transform="translate(200.9,172.7) scale(0.9,1)" style="fill:#0000ff;font-weight:bold">2</text><text transform="translate(213.9,158.2) scale(0.9,1)" clip-path="url(#c1)" style="fill:#ff0000;font-weight:bold">1</text><text transform="translate(212.4,172.7) scale(0.9,1)" style="fill:#0000ff;font-weight:bold">2</text><text transform="translate(219.8,167.3) scale(0.85,1)" style="fill:#8000ff;stroke:#8000ff;stroke-width:0.4px">3</text><text transform="translate(227.6,165.5) scale(0.9,1)" clip-path="url(#c1)" style="fill:#ff0000;font-weight:bold">1</text><text transform="translate(226.7,179.0) scale(0.9,1)" style="fill:#0000ff;font-weight:bold">2</text><text transform="translate(233.9,181.0) scale(0.9,1)" style="fill:#0000ff;font-weight:bold">2</text><text transform="translate(242.1,180.0) scale(0.9,1)" style="fill:#0000ff;font-weight:bold">2</text><text transform="translate(293.0,143.6) scale(0.9,1)" clip-path="url(#c1)" style="fill:#ff0000;font-weight:bold">1</text><text transform="translate(292.1,157.3) scale(0.9,1)" style="fill:#0000ff;font-weight:bold">2</text><text transform="translate(292.0,171.8) scale(0.85,1)" style="fill:#8000ff;stroke:#8000ff;stroke-width:0.4px">3</text><text transform="translate(301.2,164.5) scale(0.9,1)" clip-path="url(#c1)" style="fill:#ff0000;font-weight:bold">1</text><text transform="translate(300.7,178.2) scale(0.9,1)" style="fill:#0000ff;font-weight:bold">2</text><text transform="translate(313.0,171.0) scale(0.9,1)" style="fill:#0000ff;font-weight:bold">2</text><text transform="translate(326.7,181.0) scale(0.9,1)" clip-path="url(#c1)" style="fill:#ff0000;font-weight:bold">1</text><text transform="translate(369.9,165.5) scale(0.9,1)" clip-path="url(#c1)" style="fill:#ff0000;font-weight:bold">1</text><text transform="translate(362.0,179.0) scale(0.85,1)" style="fill:#8000ff;stroke:#8000ff;stroke-width:0.4px">3</text><text transform="translate(369.4,179.0) scale(0.9,1)" style="fill:#0000ff;font-weight:bold">2</text></g>
<g stroke="#000" stroke-width="2.1" fill="none" stroke-linejoin="round">
<rect x="64" y="21" width="469" height="378"/>
<line x1="64" y1="260.9" x2="533" y2="260.9"/>
<line x1="64" y1="331" x2="533" y2="331"/>
</g>
<line x1="64.0" y1="399" x2="64.0" y2="402.5" stroke="#000" stroke-width="1.6"/><line x1="116.0" y1="399" x2="116.0" y2="404.7" stroke="#000" stroke-width="1.6"/><line x1="168.0" y1="399" x2="168.0" y2="402.5" stroke="#000" stroke-width="1.6"/><line x1="220.0" y1="399" x2="220.0" y2="404.7" stroke="#000" stroke-width="1.6"/><line x1="272.0" y1="399" x2="272.0" y2="402.5" stroke="#000" stroke-width="1.6"/><line x1="324.0" y1="399" x2="324.0" y2="404.7" stroke="#000" stroke-width="1.6"/><line x1="376.0" y1="399" x2="376.0" y2="402.5" stroke="#000" stroke-width="1.6"/><line x1="428.0" y1="399" x2="428.0" y2="404.7" stroke="#000" stroke-width="1.6"/><line x1="480.0" y1="399" x2="480.0" y2="402.5" stroke="#000" stroke-width="1.6"/><line x1="532.0" y1="399" x2="532.0" y2="404.7" stroke="#000" stroke-width="1.6"/>
</svg></body></html>
